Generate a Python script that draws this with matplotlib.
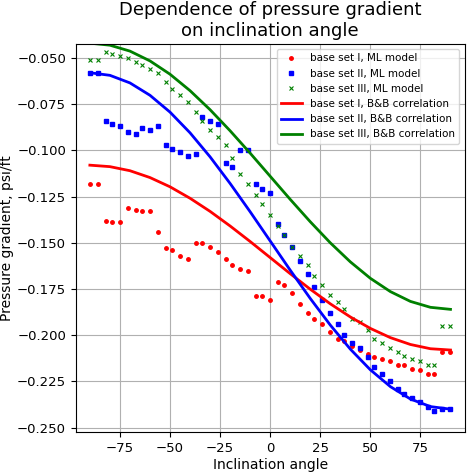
import matplotlib.pyplot as plt

angles = [-90, -86, -82, -79, -75, -71, -67, -64, -60, -56, -52, -49, -45, -41, -37, -34,
          -30, -26, -22, -19, -15, -11, -7, -4, 0, 4, 7, 11, 15, 19, 22, 26, 30, 34, 37, 41,
          45, 49, 52, 56, 60, 64, 67, 71, 75, 79, 82, 86, 90]
ml_1 = [-0.118, -0.118, -0.138, -0.139, -0.139, -0.131, -0.132, -0.133, -0.133, -0.144,
        -0.153, -0.154, -0.157, -0.159, -0.150, -0.150, -0.152, -0.155, -0.159, -0.162,
        -0.164, -0.165, -0.179, -0.179, -0.181, -0.171, -0.173, -0.177, -0.183, -0.188,
        -0.191, -0.194, -0.198, -0.202, -0.203, -0.206, -0.208, -0.210, -0.212, -0.213,
        -0.214, -0.216, -0.216, -0.218, -0.219, -0.221, -0.221, -0.209, -0.209]
ml_2 = [-0.058, -0.058, -0.084, -0.086, -0.087, -0.090, -0.091, -0.088, -0.089, -0.087,
        -0.097, -0.099, -0.101, -0.103, -0.102, -0.082, -0.084, -0.086, -0.107, -0.109,
        -0.100, -0.100, -0.118, -0.121, -0.123, -0.140, -0.146, -0.152, -0.160, -0.167,
        -0.174, -0.181, -0.188, -0.194, -0.200, -0.204, -0.207, -0.212, -0.217, -0.221,
        -0.225, -0.229, -0.232, -0.234, -0.236, -0.239, -0.241, -0.240, -0.240]
ml_3 = [-0.051, -0.051, -0.047, -0.048, -0.049, -0.050, -0.052, -0.054, -0.056, -0.058,
        -0.063, -0.067, -0.070, -0.074, -0.079, -0.084, -0.089, -0.093, -0.097, -0.104,
        -0.113, -0.118, -0.124, -0.129, -0.135, -0.141, -0.146, -0.152, -0.157, -0.162,
        -0.168, -0.173, -0.178, -0.182, -0.186, -0.191, -0.193, -0.197, -0.202, -0.204,
        -0.207, -0.209, -0.211, -0.213, -0.214, -0.216, -0.216, -0.195, -0.195]

bb_angles = list(range(-90, 91, 10))
bb_1 = [-0.108, -0.1088, -0.111, -0.1147, -0.1197, -0.1259, -0.133, -0.1409, -0.1493, -0.158,
        -0.1667, -0.1751, -0.183, -0.1901, -0.1963, -0.2013, -0.205, -0.2073, -0.208]
bb_2 = [-0.058, -0.0594, -0.0635, -0.0702, -0.0793, -0.0905, -0.1035, -0.1179, -0.1332, -0.149,
        -0.1648, -0.1801, -0.1945, -0.2075, -0.2187, -0.2278, -0.2345, -0.2386, -0.240]
bb_3 = [-0.042, -0.0431, -0.0463, -0.0516, -0.0588, -0.0677, -0.078, -0.0894, -0.1015, -0.114,
        -0.1265, -0.1386, -0.150, -0.1603, -0.1692, -0.1764, -0.1817, -0.1849, -0.186]

fig, ax = plt.subplots(figsize=(4.74, 4.74), dpi=100)
ax.plot(angles, ml_1, "r.", ms=5, label="base set I, ML model")
ax.plot(angles, ml_2, "bs", ms=3, label="base set II, ML model")
ax.plot(angles, ml_3, "gx", ms=3, mew=0.8, label="base set III, ML model")
ax.plot(bb_angles, bb_1, "r-", lw=2, label="base set I, B&B correlation")
ax.plot(bb_angles, bb_2, "b-", lw=2, label="base set II, B&B correlation")
ax.plot(bb_angles, bb_3, "g-", lw=2, label="base set III, B&B correlation")

ax.set_xlim(-97, 97)
ax.set_ylim(-0.2525, -0.0425)
ax.set_xticks([-75, -50, -25, 0, 25, 50, 75])
ax.tick_params(labelsize=9.5)
ax.grid(True)
ax.set_title("Dependence of pressure gradient\non inclination angle", fontsize=13)
ax.set_xlabel("Inclination angle", fontsize=10, labelpad=2)
ax.set_ylabel("Pressure gradient, psi/ft", fontsize=10, labelpad=2)
ax.legend(fontsize=7.5, loc="upper right")
fig.subplots_adjust(left=0.16, right=0.98, top=0.907, bottom=0.088)
fig.savefig("out.png", dpi=100)
